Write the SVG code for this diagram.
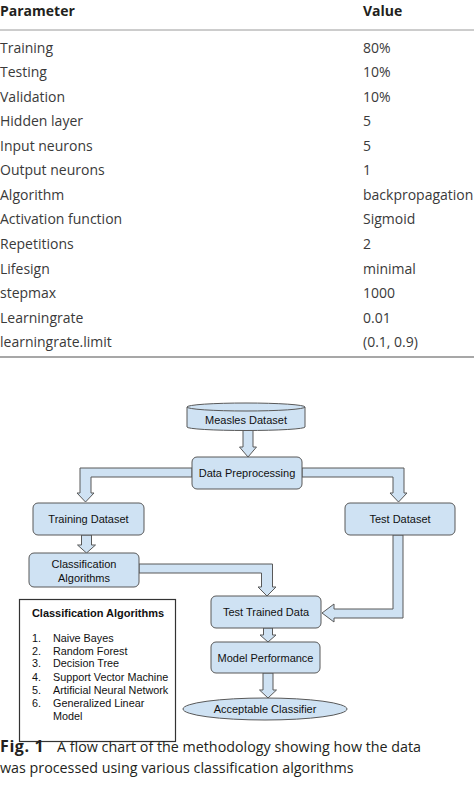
<svg xmlns="http://www.w3.org/2000/svg" width="474" height="788" viewBox="0 0 474 788">
<style>
.th{font-family:"Open Sans","Noto Sans",sans-serif;font-size:14px;font-weight:bold;fill:#231f20}
.td{font-family:"Open Sans","Noto Sans",sans-serif;font-size:14px;fill:#3a3a3a}
.cap{font-family:"Open Sans","Noto Sans",sans-serif;font-size:14.3px;fill:#231f20}
.box{fill:#cfe2f3;stroke:#595959;stroke-width:1}
.blk{fill:#cfe2f3;stroke:#595959;stroke-width:1;stroke-linejoin:miter}
.lbl{font-family:"Liberation Sans",Arial,sans-serif;font-size:11px;fill:#111;text-anchor:middle}
.leg{font-family:"Liberation Sans",Arial,sans-serif;font-size:10.8px;fill:#111}
</style>
<rect width="474" height="788" fill="#fff"/>
<g id="table">
<text class="th" x="0" y="16">Parameter</text>
<text class="th" x="363" y="16">Value</text>
<line x1="0" y1="30" x2="474" y2="30" stroke="#9a9a9a" stroke-width="1"/>
<g class="td">
<text x="0" y="52.5">Training</text><text x="363" y="52.5">80%</text>
<text x="0" y="77">Testing</text><text x="363" y="77">10%</text>
<text x="0" y="101.6">Validation</text><text x="363" y="101.6">10%</text>
<text x="0" y="126.2">Hidden layer</text><text x="363" y="126.2">5</text>
<text x="0" y="150.7">Input neurons</text><text x="363" y="150.7">5</text>
<text x="0" y="175.3">Output neurons</text><text x="363" y="175.3">1</text>
<text x="0" y="199.8">Algorithm</text><text x="363" y="199.8">backpropagation</text>
<text x="0" y="224.4">Activation function</text><text x="363" y="224.4">Sigmoid</text>
<text x="0" y="248.9">Repetitions</text><text x="363" y="248.9">2</text>
<text x="0" y="273.5">Lifesign</text><text x="363" y="273.5">minimal</text>
<text x="0" y="298">stepmax</text><text x="363" y="298">1000</text>
<text x="0" y="322.6">Learningrate</text><text x="363" y="322.6">0.01</text>
<text x="0" y="347.1">learningrate.limit</text><text x="363" y="347.1">(0.1, 0.9)</text>
</g>
<line x1="0" y1="357" x2="474" y2="357" stroke="#8a8a8a" stroke-width="1.5"/>
</g>
<g id="connectors">
<polygon class="blk" points="243,430 253,430 253,447 256.5,447 248,457 239.5,447 243,447"/>
<polygon class="blk" points="192,468 80,468 80,493 77,493 85.5,502 94,493 91,493 91,477 192,477"/>
<polygon class="blk" points="302,468 404,468 404,493 407,493 398.5,502 390,493 393,493 393,477 302,477"/>
<polygon class="blk" points="81.5,535 91.5,535 91.5,545 95.5,545 86.5,553 77.5,545 81.5,545"/>
<polygon class="blk" points="139,564 272.5,564 272.5,587 276,587 267,596 258,587 261.5,587 261.5,573 139,573"/>
<polygon class="blk" points="393,535 403,535 403,618 334,618 334,622 322,613 334,604 334,609 393,609"/>
<polygon class="blk" points="263.5,628 272.5,628 272.5,635 276,635 268,642 260,635 263.5,635"/>
<polygon class="blk" points="263,673 273,673 273,690 276.5,690 268,698 259.5,690 263,690"/>
</g>
<g id="measles">
<path class="box" d="M187,407 A59,4 0 0,1 305,407 L305,427 A59,3.5 0 0,1 187,427 Z"/>
<path d="M187,407 A59,4 0 0,0 305,407" fill="none" stroke="#595959" stroke-width="1"/>
<text class="lbl" x="246" y="424">Measles Dataset</text>
</g>
<g id="preprocessing">
<rect class="box" x="192" y="457" width="110" height="32" rx="5"/>
<text class="lbl" x="247" y="477">Data Preprocessing</text>
</g>
<g id="training">
<rect class="box" x="33" y="503" width="111" height="32" rx="5"/>
<text class="lbl" x="88.5" y="523">Training Dataset</text>
</g>
<g id="test">
<rect class="box" x="345" y="503" width="110" height="32" rx="5"/>
<text class="lbl" x="400" y="523">Test Dataset</text>
</g>
<g id="classification">
<rect class="box" x="29" y="553" width="110" height="34" rx="5"/>
<text class="lbl" x="84" y="567.5">Classification</text>
<text class="lbl" x="84" y="581.5">Algorithms</text>
</g>
<g id="testtrained">
<rect class="box" x="211" y="596" width="110" height="32" rx="5"/>
<text class="lbl" x="266" y="616">Test Trained Data</text>
</g>
<g id="performance">
<rect class="box" x="211" y="642" width="109" height="31" rx="5"/>
<text class="lbl" x="265.5" y="661.5">Model Performance</text>
</g>
<g id="acceptable">
<ellipse class="box" cx="265" cy="709" rx="82" ry="11"/>
<text class="lbl" x="265" y="713">Acceptable Classifier</text>
</g>
<g id="legend">
<rect x="19.5" y="599.5" width="156" height="142" fill="#fff" stroke="#333" stroke-width="1.2"/>
<text x="98" y="617" font-family="'Liberation Sans',Arial,sans-serif" font-size="11px" font-weight="bold" fill="#111" text-anchor="middle">Classification Algorithms</text>
<g class="leg">
<text x="32" y="642">1.</text><text x="53" y="642">Naive Bayes</text>
<text x="32" y="655">2.</text><text x="53" y="655">Random Forest</text>
<text x="32" y="667">3.</text><text x="53" y="667">Decision Tree</text>
<text x="32" y="681">4.</text><text x="53" y="681">Support Vector Machine</text>
<text x="32" y="694">5.</text><text x="53" y="694">Artificial Neural Network</text>
<text x="32" y="707">6.</text><text x="53" y="707">Generalized Linear</text>
<text x="53" y="720">Model</text>
</g>
</g>
<g id="caption">
<text class="cap" x="0" y="752"><tspan font-weight="bold" font-size="16px" letter-spacing="0.6">Fig. 1</tspan><tspan x="57">A flow chart of the methodology showing how the data</tspan></text>
<text class="cap" x="0" y="773">was processed using various classification algorithms</text>
</g>
</svg>
